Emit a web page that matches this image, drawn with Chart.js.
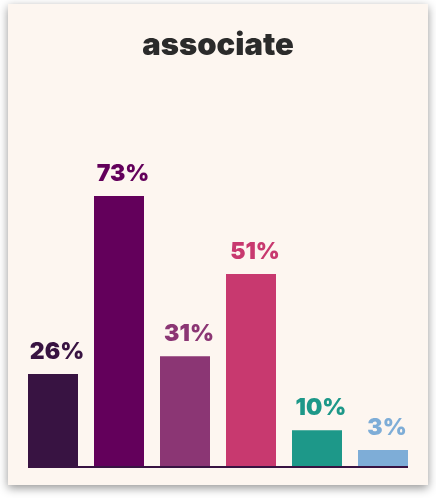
<!DOCTYPE html>
<html>
<head>
<meta charset="utf-8">
<script src="https://cdn.jsdelivr.net/npm/chart.js@4.4.1/dist/chart.umd.min.js"></script>
<style>
  html, body { margin: 0; padding: 0; background: #ffffff; }
  .card {
    position: absolute; left: 8px; top: 4px; width: 420px; height: 481px;
    background: #fdf6f0;
    box-shadow: 0 3px 9px rgba(0, 0, 0, 0.42);
  }
  .card canvas { display: block; }
</style>
</head>
<body>
<div class="card"><canvas id="chart"></canvas></div>
<script>
const categories = ["1", "2", "3", "4", "5", "6"];
const values = [24.9, 73.0, 29.7, 51.9, 9.7, 4.3];
const shownLabels = ["26%", "73%", "31%", "51%", "10%", "3%"];
const barColors = ["#381342", "#63005b", "#8b3674", "#c8396f", "#1d9889", "#7eadd7"];
const titleText = "associate";
const baseColor = "#381342";

const FONT = "Inter, 'Open Sans', sans-serif";

// percentage labels above each bar, same colour as the bar
const valueLabels = {
  id: "valueLabels",
  afterDatasetsDraw(chart) {
    const ctx = chart.ctx;
    const meta = chart.getDatasetMeta(0);
    ctx.save();
    ctx.font = "900 23px " + FONT;
    ctx.textAlign = "center";
    ctx.textBaseline = "alphabetic";
    meta.data.forEach((bar, i) => {
      ctx.fillStyle = barColors[i];
      ctx.fillText(shownLabels[i], bar.x + 4, bar.y - 15);
    });
    ctx.restore();
  },
};

// dark baseline under the bars, only as wide as the bars
const baseLine = {
  id: "baseLine",
  afterDatasetsDraw(chart) {
    const ctx = chart.ctx;
    const bars = chart.getDatasetMeta(0).data;
    const first = bars[0], last = bars[bars.length - 1];
    const y = chart.scales.y.getPixelForValue(0);
    ctx.save();
    ctx.fillStyle = baseColor;
    ctx.fillRect(first.x - first.width / 2, y, last.x + last.width / 2 - (first.x - first.width / 2), 2);
    ctx.restore();
  },
};

const canvas = document.getElementById("chart");
canvas.style.width = "420px";
canvas.style.height = "481px";
canvas.width = 420;
canvas.height = 481;

new Chart(canvas.getContext("2d"), {
  type: "bar",
  data: {
    labels: categories,
    datasets: [{
      data: values,
      backgroundColor: barColors,
      borderWidth: 0,
      barPercentage: 50 / 66,
      categoryPercentage: 1,
    }],
  },
  options: {
    responsive: false,
    animation: false,
    layout: { padding: { left: 12, right: 12, top: 0, bottom: 19 } },
    plugins: {
      legend: { display: false },
      tooltip: { enabled: false },
      title: {
        display: true,
        text: titleText,
        color: "#2b2b2b",
        font: { family: FONT, size: 31, weight: "900", lineHeight: 1.2 },
        padding: { top: 23, bottom: 32 },
      },
    },
    scales: {
      x: { display: false },
      y: { display: false, min: 0, max: 100 },
    },
  },
  plugins: [valueLabels, baseLine],
});
</script>
</body>
</html>
